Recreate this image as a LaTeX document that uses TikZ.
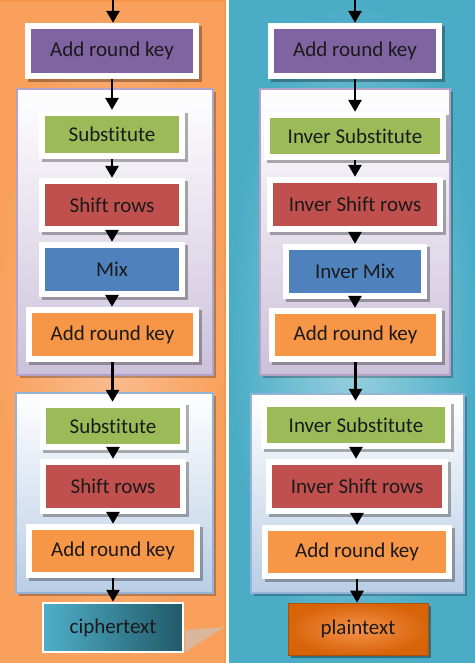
\documentclass[tikz,border=0pt]{standalone}
\usepackage{fontspec}
\setmainfont{Carlito}[Ligatures={NoCommon}]
\usetikzlibrary{arrows.meta,shadows}
\definecolor{oPurple}{HTML}{8064A2}
\definecolor{oGreen}{HTML}{9BBB59}
\definecolor{oRed}{HTML}{C0504D}
\definecolor{oBlue}{HTML}{4F81BD}
\definecolor{oOrange}{HTML}{F79646}
\definecolor{panelOrangeIn}{HTML}{FBBE92}
\definecolor{panelOrangeOut}{HTML}{F8A05C}
\definecolor{panelOrangeLine}{HTML}{F79646}
\definecolor{panelTealIn}{HTML}{9AD2E0}
\definecolor{panelTealOut}{HTML}{4BACC6}
\definecolor{panelTealLine}{HTML}{4BACC6}
\definecolor{lavBottom}{HTML}{CCC0DA}
\definecolor{lavLine}{HTML}{B3A2C7}
\definecolor{bluBottom}{HTML}{B9CDE5}
\definecolor{bluLine}{HTML}{95B3D7}
\definecolor{cipherLight}{HTML}{4FAFC8}
\definecolor{cipherDark}{HTML}{215968}
\definecolor{plainIn}{HTML}{F5924A}
\definecolor{plainOut}{HTML}{D8640A}
\definecolor{txt}{HTML}{1A1A1A}
\tikzset{
  stagebox/.style={fill=white, inner sep=0pt, text=txt,
    font=\fontsize{21}{25}\selectfont,
    drop shadow={shadow xshift=3pt, shadow yshift=-3pt, fill=black, opacity=0.3}},
  col/.style={path picture={\fill[#1]
      ([xshift=6pt,yshift=-6pt]path picture bounding box.north west) rectangle
      ([xshift=-6pt,yshift=6pt]path picture bounding box.south east);}},
  lavgroup/.style={inner sep=0pt, draw=lavLine, line width=1.5pt,
    top color=white, bottom color=lavBottom,
    drop shadow={shadow xshift=3pt, shadow yshift=-3pt, fill=black, opacity=0.25}},
  blugroup/.style={inner sep=0pt, draw=bluLine, line width=1.5pt,
    top color=white, bottom color=bluBottom,
    drop shadow={shadow xshift=3pt, shadow yshift=-3pt, fill=black, opacity=0.25}},
  arr/.style={-{Triangle[width=13pt,length=12pt]}, line width=2.8pt, black},
}
\begin{document}
\begin{tikzpicture}[x=1pt,y=-1pt]
\useasboundingbox (0,0) rectangle (474,663);
% panels
\path[inner color=panelOrangeIn, outer color=panelOrangeOut] (-3,1) rectangle (225,667);
\draw[panelOrangeLine, line width=2pt] (-3,1) rectangle (225,667);
\path[inner color=panelTealIn, outer color=panelTealOut] (230,1) rectangle (477,667);
\draw[panelTealLine, line width=2.5pt] (230,1) rectangle (477,667);
% reflection near ciphertext
\fill[gray!45, opacity=0.6] (185,630) -- (224,627) -- (185,652) -- cycle;

% ---------- left column ----------
\node[lavgroup, minimum width=196pt, minimum height=286pt] (g1) at (115,232) {};
\node[blugroup, minimum width=197pt, minimum height=200pt] (g2) at (114.5,493) {};

\node[stagebox, col=oPurple, minimum width=174pt, minimum height=56pt] (L1) at (112,51) {Add round key};
\node[stagebox, col=oGreen, minimum width=146pt, minimum height=49pt] (L2) at (112,134.5) {Substitute};
\node[stagebox, col=oRed, minimum width=146pt, minimum height=54pt] (L3) at (112,205) {Shift rows};
\node[stagebox, col=oBlue, minimum width=146pt, minimum height=55pt] (L4) at (112,269.5) {Mix};
\node[stagebox, col=oOrange, minimum width=173pt, minimum height=55pt] (L5) at (112.5,334.5) {Add round key};
\node[stagebox, col=oGreen, minimum width=146pt, minimum height=48pt] (L6) at (113,426) {Substitute};
\node[stagebox, col=oRed, minimum width=146pt, minimum height=55pt] (L7) at (113,486.5) {Shift rows};
\node[stagebox, col=oOrange, minimum width=174pt, minimum height=54pt] (L8) at (113,551) {Add round key};
\node[draw=white, line width=2.5pt, left color=cipherLight, right color=cipherDark,
      minimum width=140pt, minimum height=49pt, inner sep=0pt, text=txt,
      font=\fontsize{21}{25}\selectfont] (L9) at (113,627.5) {ciphertext};

% ---------- right column ----------
\node[lavgroup, minimum width=190pt, minimum height=286pt] (rg1) at (355,232) {};
\node[blugroup, minimum width=213pt, minimum height=199pt] (rg2) at (357.5,493.5) {};

\node[stagebox, col=oPurple, minimum width=174pt, minimum height=56pt] (R1) at (355,51) {Add round key};
\node[stagebox, col=oGreen, minimum width=182pt, minimum height=48pt] (R2) at (355,136) {Inver Substitute};
\node[stagebox, col=oRed, minimum width=176pt, minimum height=55pt] (R3) at (355,204.5) {Inver Shift rows};
\node[stagebox, col=oBlue, minimum width=144pt, minimum height=55pt] (R4) at (355,271.5) {Inver Mix};
\node[stagebox, col=oOrange, minimum width=173pt, minimum height=54pt] (R5) at (355.5,335) {Add round key};
\node[stagebox, col=oGreen, minimum width=190pt, minimum height=48pt] (R6) at (356,425) {Inver Substitute};
\node[stagebox, col=oRed, minimum width=182pt, minimum height=55pt] (R7) at (357,486.5) {Inver Shift rows};
\node[stagebox, col=oOrange, minimum width=190pt, minimum height=54pt] (R8) at (357,552) {Add round key};
\node[draw=plainOut!80!black, line width=0.6pt, inner color=plainIn, outer color=plainOut,
      minimum width=140pt, minimum height=52pt, inner sep=0pt, text=txt,
      font=\fontsize{21}{25}\selectfont,
      drop shadow={shadow xshift=3pt, shadow yshift=-3pt, fill=black, opacity=0.35}] (R9) at (358,629) {plaintext};

% ---------- arrows ----------
\coordinate (tl) at (113,-3);
\coordinate (tr) at (355,-3);
\draw[arr] (tl) -- (tl |- L1.north);
\draw[arr] (L1.south) -- (L1.south |- L2.north);
\draw[arr] (L2.south) -- (L2.south |- L3.north);
\draw[arr] (L3.south) -- (L3.south |- L4.north);
\draw[arr] (L4.south) -- (L4.south |- L5.north);
\draw[arr] (L5.south) -- (L5.south |- L6.north);
\draw[arr] (L6.south) -- (L6.south |- L7.north);
\draw[arr] (L7.south) -- (L7.south |- L8.north);
\draw[arr] (L8.south) -- (L8.south |- L9.north);

\draw[arr] (tr) -- (tr |- R1.north);
\draw[arr] (R1.south) -- (R1.south |- R2.north);
\draw[arr] (R2.south) -- (R2.south |- R3.north);
\draw[arr] (R3.south) -- (R3.south |- R4.north);
\draw[arr] (R4.south) -- (R4.south |- R5.north);
\draw[arr] (R5.south) -- (R5.south |- R6.north);
\draw[arr] (R6.south) -- (R6.south |- R7.north);
\draw[arr] (R7.south) -- (R7.south |- R8.north);
\draw[arr] (R8.south) -- (R8.south |- R9.north);
\end{tikzpicture}
\end{document}
